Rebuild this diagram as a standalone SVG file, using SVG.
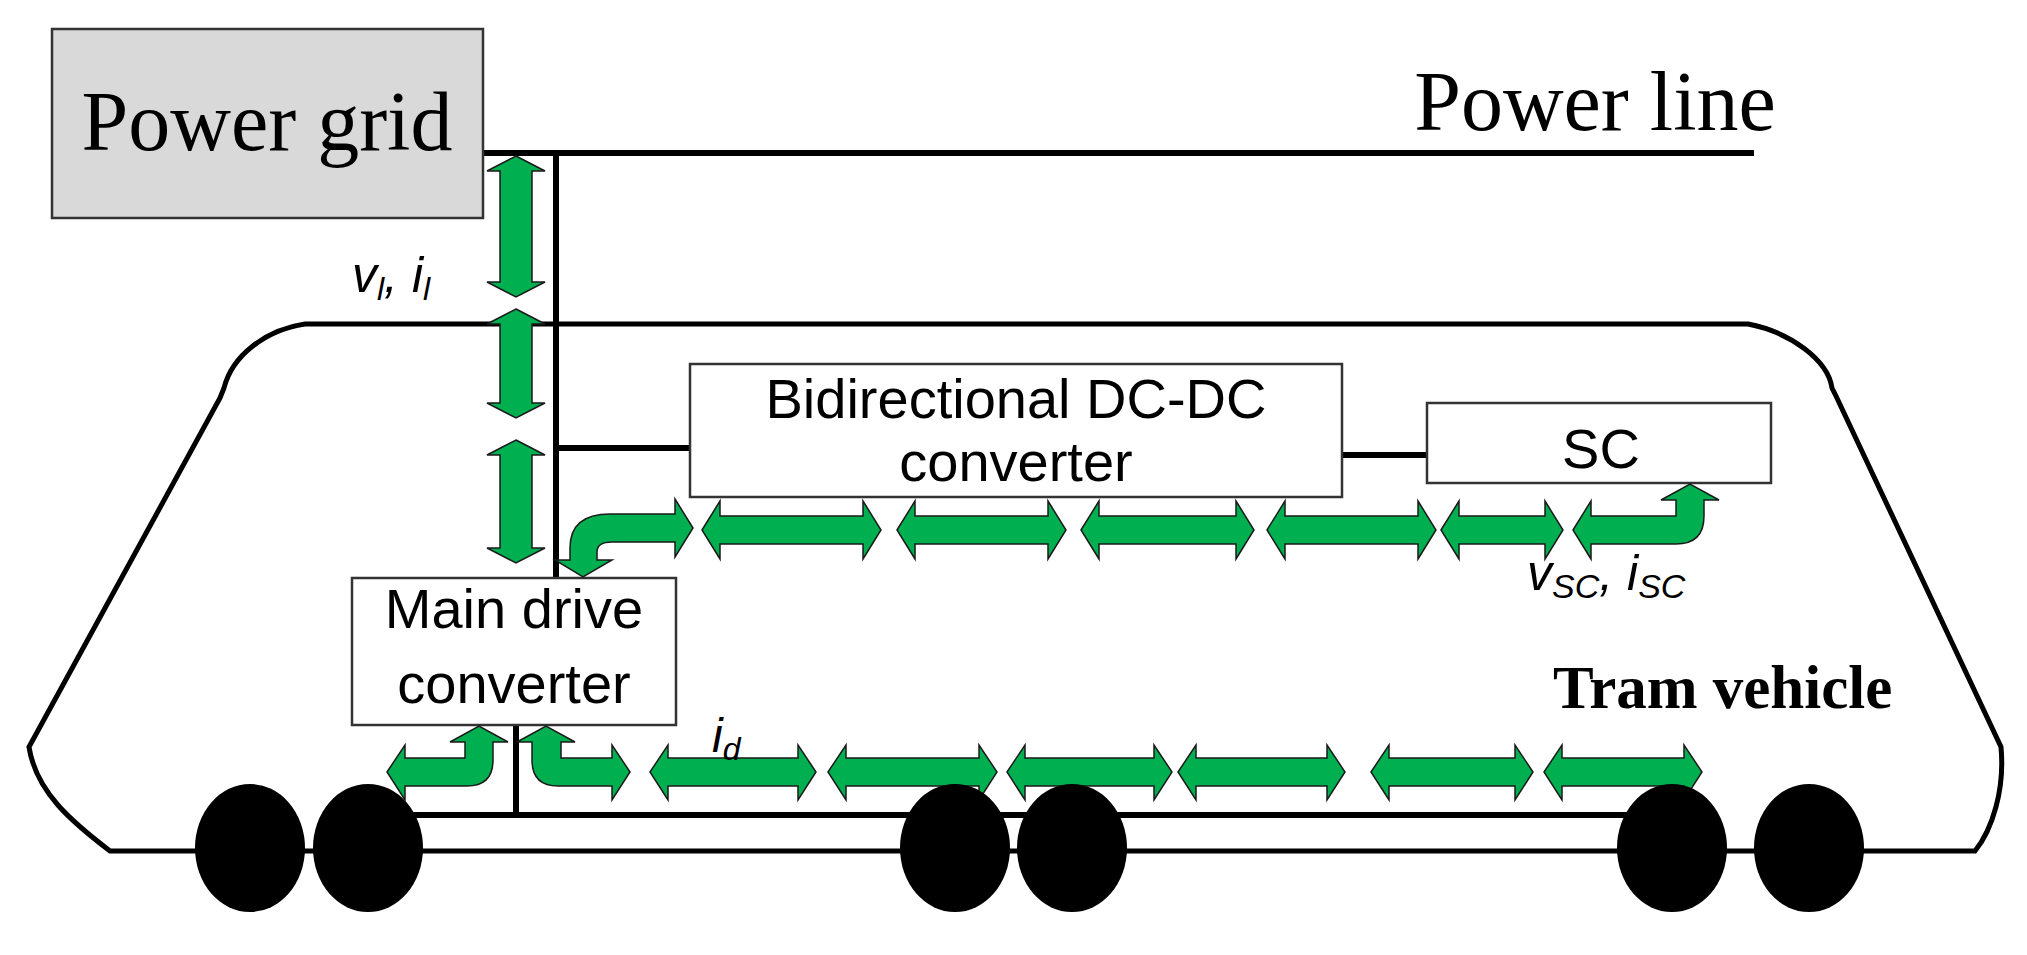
<svg xmlns="http://www.w3.org/2000/svg" width="2027" height="955" viewBox="0 0 2027 955">
<style>
.ar{fill:#00b050;stroke:#1a1a1a;stroke-width:1.5;stroke-linejoin:miter}
.box{fill:#fff;stroke:#333;stroke-width:2.5}
.ln{stroke:#000;stroke-width:6;fill:none}
.sans{font-family:"Liberation Sans",Arial,sans-serif;font-size:56px;fill:#000}
.serif{font-family:"Liberation Serif","Times New Roman",serif;fill:#000}
.it{font-family:"Liberation Sans",Arial,sans-serif;font-style:italic;fill:#000}
.wh{fill:#000}
</style>
<rect width="2027" height="955" fill="#fff"/>
<g id="tram-body">
<path d="M305,324 L1748,324 C1790,332 1828,360 1832,388 L1836,396 L2001,747 C2005,790 1992,830 1975,851 L110,851 C72,822 36,792 29,747 L220,398 L224,388 C232,356 265,330 305,324 Z" fill="none" stroke="#000" stroke-width="5"/>
</g>
<g id="connectors">
<path class="ln" d="M483,153 L1754,153"/>
<path class="ln" d="M556,153 L556,578"/>
<path class="ln" d="M556,448 L690,448"/>
<path class="ln" d="M1342,455 L1427,455"/>
<path class="ln" d="M516,725 L516,815"/>
<path class="ln" d="M396,815 L1702,815" stroke-width="8"/>
</g>
<g id="power-grid">
<rect x="52" y="29" width="431" height="189" fill="#d9d9d9" stroke="#333" stroke-width="2.5"/>
<text class="serif" x="267" y="150" font-size="84" text-anchor="middle">Power grid</text>
</g>
<g id="power-line-label">
<text class="serif" x="1595" y="130" font-size="84" text-anchor="middle">Power line</text>
</g>
<g id="dcdc">
<rect class="box" x="690" y="364" width="652" height="133"/>
<text class="sans" x="1016" y="418" text-anchor="middle">Bidirectional DC-DC</text>
<text class="sans" x="1016" y="481" text-anchor="middle">converter</text>
</g>
<g id="sc">
<rect class="box" x="1427" y="403" width="344" height="80"/>
<text class="sans" x="1601" y="468" font-size="72" text-anchor="middle">SC</text>
</g>
<g id="main-drive">
<rect class="box" x="352" y="578" width="324" height="147"/>
<text class="sans" x="514" y="628" text-anchor="middle">Main drive</text>
<text class="sans" x="514" y="703" text-anchor="middle">converter</text>
</g>
<g id="flow-arrows">
<path class="ar" d="M516,156 L545,171 L532,171 L532,282 L545,282 L516,297 L487,282 L500,282 L500,171 L487,171 Z"/>
<path class="ar" d="M516,309 L545,324 L532,324 L532,403 L545,403 L516,418 L487,403 L500,403 L500,324 L487,324 Z"/>
<path class="ar" d="M516,440 L545,455 L532,455 L532,548 L545,548 L516,563 L487,548 L500,548 L500,455 L487,455 Z"/>
<path class="ar" d="M693,528 L675,499 L675,514 L610,514 Q570,514 570,548 L570,560 L555,560 L583,577 L612,560 L597,560 L597,552 Q597,542 612,542 L675,542 L675,557 Z"/>
<path class="ar" d="M702,530 L720,501 L720,516 L863,516 L863,501 L881,530 L863,559 L863,544 L720,544 L720,559 Z"/>
<path class="ar" d="M897,530 L915,501 L915,516 L1048,516 L1048,501 L1066,530 L1048,559 L1048,544 L915,544 L915,559 Z"/>
<path class="ar" d="M1081,530 L1099,501 L1099,516 L1236,516 L1236,501 L1254,530 L1236,559 L1236,544 L1099,544 L1099,559 Z"/>
<path class="ar" d="M1267,530 L1285,501 L1285,516 L1418,516 L1418,501 L1436,530 L1418,559 L1418,544 L1285,544 L1285,559 Z"/>
<path class="ar" d="M1441,530 L1459,501 L1459,516 L1545,516 L1545,501 L1563,530 L1545,559 L1545,544 L1459,544 L1459,559 Z"/>
<path class="ar" d="M1573,530 L1591,501 L1591,516 L1676,516 L1676,500 L1661,500 L1690,484 L1719,500 L1704,500 L1704,516 Q1704,544 1676,544 L1591,544 L1591,559 Z"/>
<path class="ar" d="M387,772 L405,745 L405,758 L465,758 L465,742 L450,742 L479,726 L508,742 L493,742 L493,760 Q493,786 467,786 L405,786 L405,800 Z"/>
<path class="ar" d="M630,772 L612,745 L612,758 L561,758 L561,742 L575,742 L546,726 L517,742 L532,742 L532,760 Q532,786 558,786 L612,786 L612,800 Z"/>
<path class="ar" d="M650,772 L668,745 L668,758 L798,758 L798,745 L816,772 L798,800 L798,786 L668,786 L668,800 Z"/>
<path class="ar" d="M828,772 L846,745 L846,758 L979,758 L979,745 L997,772 L979,800 L979,786 L846,786 L846,800 Z"/>
<path class="ar" d="M1007,772 L1025,745 L1025,758 L1154,758 L1154,745 L1172,772 L1154,800 L1154,786 L1025,786 L1025,800 Z"/>
<path class="ar" d="M1178,772 L1196,745 L1196,758 L1327,758 L1327,745 L1345,772 L1327,800 L1327,786 L1196,786 L1196,800 Z"/>
<path class="ar" d="M1371,772 L1389,745 L1389,758 L1515,758 L1515,745 L1533,772 L1515,800 L1515,786 L1389,786 L1389,800 Z"/>
<path class="ar" d="M1544,772 L1562,745 L1562,758 L1684,758 L1684,745 L1702,772 L1684,800 L1684,786 L1562,786 L1562,800 Z"/>
</g>
<g id="wheels">
<ellipse class="wh" cx="250" cy="848" rx="55" ry="64"/>
<ellipse class="wh" cx="368" cy="848" rx="55" ry="64"/>
<ellipse class="wh" cx="955" cy="848" rx="55" ry="64"/>
<ellipse class="wh" cx="1072" cy="848" rx="55" ry="64"/>
<ellipse class="wh" cx="1672" cy="848" rx="55" ry="64"/>
<ellipse class="wh" cx="1809" cy="848" rx="55" ry="64"/>
</g>
<g id="labels">
<text class="it" x="352" y="292" font-size="50">v<tspan font-size="32" dy="8">l</tspan><tspan dy="-8">, i</tspan><tspan font-size="32" dy="8">l</tspan></text>
<text class="it" x="1527" y="590" font-size="50">v<tspan font-size="34" dy="8">SC</tspan><tspan dy="-8">, i</tspan><tspan font-size="34" dy="8">SC</tspan></text>
<text class="it" x="712" y="752" font-size="48">i<tspan font-size="32" dy="8">d</tspan></text>
<text class="serif" x="1553" y="708" font-size="61" font-weight="bold">Tram vehicle</text>
</g>
</svg>
